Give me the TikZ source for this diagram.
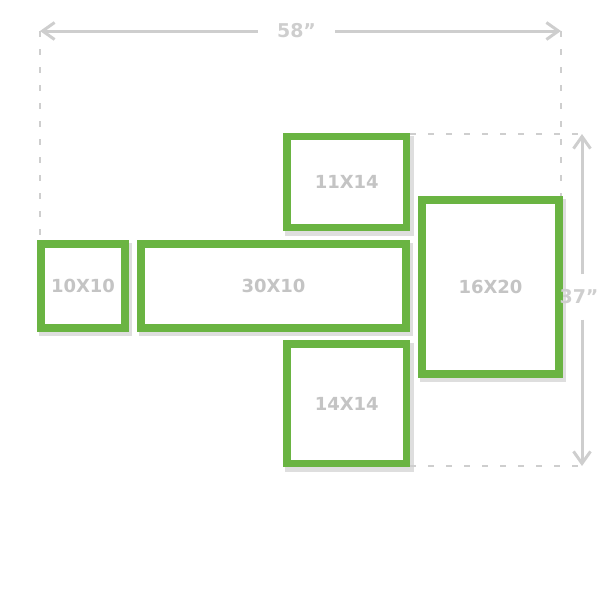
\documentclass[tikz,border=0pt]{standalone}
\usepackage{fontspec}
\setmainfont{DejaVu Sans}
\usetikzlibrary{arrows.meta,shadows}
\definecolor{framegreen}{RGB}{106,180,66}
\definecolor{labgray}{RGB}{196,196,196}
\definecolor{dimgray}{RGB}{206,206,206}
\tikzset{
  frame/.style={draw=framegreen, line width=7.5pt, fill=white, rectangle, inner sep=0pt,
    font=\fontsize{18}{20}\selectfont\bfseries, text=labgray,
    drop shadow={fill=none, draw=black, line width=9pt, opacity=0.13, shadow xshift=2.5pt, shadow yshift=-3.5pt}},
  dimline/.style={draw=dimgray, line width=3pt, -{Straight Barb[length=12pt,width=17pt]}},
  dashline/.style={draw=dimgray, line width=2.2pt, dash pattern=on 6pt off 12pt},
  dimlabel/.style={font=\fontsize{19}{21}\selectfont\bfseries, text=dimgray, inner sep=0pt}
}
\begin{document}
\begin{tikzpicture}[x=1pt,y=-1pt]
\useasboundingbox (0,0) rectangle (600,600);
% coordinates for dimension lines
\coordinate (tl) at (40,31);
\coordinate (tr) at (561,31);
\coordinate (topR) at (582,134);
\coordinate (botR) at (582,466);
% frames
\node[frame, minimum width=84pt, minimum height=84pt] (b10) at (83,286) {10X10};
\node[frame, minimum width=265pt, minimum height=84pt] (b30) at (273.5,286) {30X10};
\node[frame, minimum width=119.5pt, minimum height=91pt] (b11) at (346.75,182) {11X14};
\node[frame, minimum width=119.5pt, minimum height=119.5pt] (b14) at (346.75,403.75) {14X14};
\node[frame, minimum width=137pt, minimum height=174pt] (b16) at (490.5,287) {16X20};
% dashed extension lines
\draw[dashline] (tl) -- (tl |- b10.north);
\draw[dashline] (tr) -- (tr |- b16.north);
\draw[dashline] (b11.east |- topR) -- (topR);
\draw[dashline] (b14.east |- botR) -- (botR);
% dimension labels
\node[dimlabel, minimum width=77pt] (lab58) at (296.5,31) {58”};
\node[dimlabel, minimum height=45pt] (lab37) at (579,297) {37”};
% dimension arrows
\draw[dimline] (lab58.west) -- (tl);
\draw[dimline] (lab58.east) -- (tr);
\draw[dimline] (topR |- lab37.north) -- (topR);
\draw[dimline] (botR |- lab37.south) -- (botR);
\end{tikzpicture}
\end{document}
